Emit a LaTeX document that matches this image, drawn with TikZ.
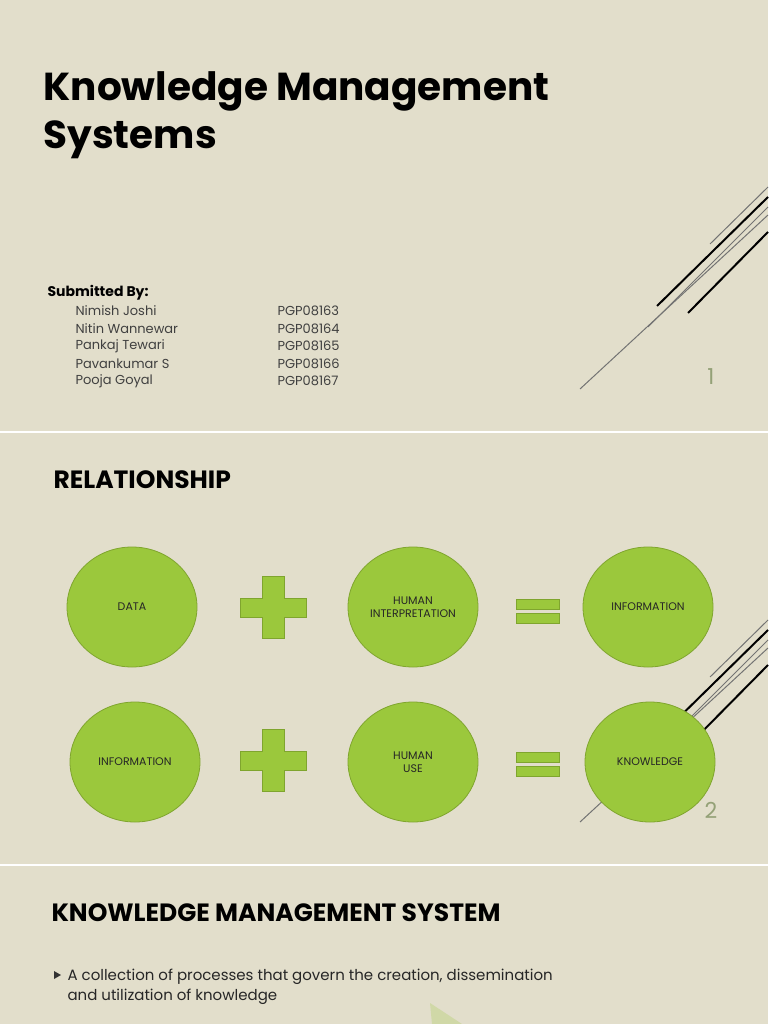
\documentclass[tikz,border=0pt]{standalone}
\usepackage{fontspec}
\usetikzlibrary{shapes.geometric}
\setmainfont{Poppins}
\begin{document}
\begin{tikzpicture}[x=1pt,y=-1pt,
  grn/.style={fill=kmgreen,draw=kmborder,line width=0.8pt},
  circ/.style={grn,ellipse,minimum width=130pt,minimum height=120pt,inner sep=0pt,font=\fontsize{11}{13}\selectfont,text=black!85,align=center},
  lnthin/.style={draw=black!55,line width=1pt},
  lnthick/.style={draw=black,line width=2pt},
  person/.style={anchor=west,font=\fontsize{13}{14}\selectfont,text=black!75}]
\definecolor{kmbg}{HTML}{E2DECB}
\definecolor{kmgreen}{HTML}{9BC83C}
\definecolor{kmborder}{HTML}{7FA52E}
\useasboundingbox (0,0) rectangle (768,1024);
\fill[kmbg] (0,0) rectangle (768,1024);
\fill[white] (0,431) rectangle (768,433);
\fill[white] (0,864) rectangle (768,866);
% slide 1
\node[anchor=north west,align=left,font=\bfseries\fontsize{39}{48}\selectfont] (title) at (40,68) {Knowledge Management\\Systems};
\node[anchor=west,font=\bfseries\fontsize{14}{16}\selectfont] (sub) at (44,293) {Submitted By:};
\foreach \n/\c [count=\i from 0] in {Nimish Joshi/PGP08163,Nitin Wannewar/PGP08164,Pankaj Tewari/PGP08165,Pavankumar S/PGP08166,Pooja Goyal/PGP08167}{
  \node[person] (n\i) at (72,311+17.5*\i) {\n};
  \node[person] (c\i) at (274,311+17.5*\i) {\c};
}
\foreach \o/\k in {0/1,433/2}{
  \draw[lnthin] (580,389+\o) -- (768,215+\o);
  \draw[lnthin] (648,327+\o) -- (768,207+\o);
  \draw[lnthick] (657,306+\o) -- (768,197+\o);
  \draw[lnthin] (710,244+\o) -- (768,187+\o);
  \draw[lnthick] (688,313+\o) -- (768,232+\o);
  \node[font=\fontsize{22}{24}\selectfont,text=kmborder!60!black!60] (pg\k) at (711,377+\o) {\k};
}
% slide 2
\node[anchor=west,font=\bfseries\fontsize{25}{28}\selectfont] (rel) at (50,480) {RELATIONSHIP};
\node[circ] (a1) at (132,607) {DATA};
\node[circ] (b1) at (413,607) {HUMAN\\INTERPRETATION};
\node[circ] (c1) at (648,607) {INFORMATION};
\node[circ] (a2) at (135,762) {INFORMATION};
\node[circ] (b2) at (413,762) {HUMAN\\USE};
\node[circ] (c2) at (650,762) {KNOWLEDGE};
\foreach \y in {607,760}{
  \filldraw[grn] (262,\y-31) -- (284,\y-31) -- (284,\y-9) -- (306,\y-9) -- (306,\y+10) -- (284,\y+10) -- (284,\y+31) -- (262,\y+31) -- (262,\y+10) -- (240,\y+10) -- (240,\y-9) -- (262,\y-9) -- cycle;
  \filldraw[grn] (516,\y-8) rectangle (559,\y+2);
  \filldraw[grn] (516,\y+6) rectangle (559,\y+16);
}
% slide 3
\node[anchor=west,font=\bfseries\fontsize{25}{28}\selectfont] (kms) at (48,913) {KNOWLEDGE MANAGEMENT SYSTEM};
\fill[black!80] (54,971) -- (61,975) -- (54,979) -- cycle;
\node[anchor=north west,align=left,font=\fontsize{15}{20}\selectfont,text=black!85] (bul) at (64,965) {A collection of processes that govern the creation, dissemination\\and utilization of knowledge};
\fill[kmgreen!25!kmbg] (430,1003) -- (462,1024) -- (432,1024) -- cycle;
\end{tikzpicture}
\end{document}
